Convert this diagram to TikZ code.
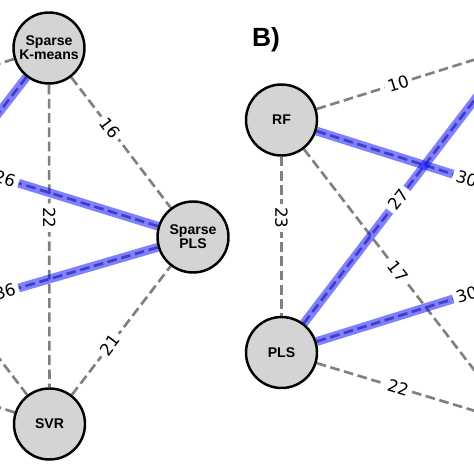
\documentclass[tikz,border=0pt]{standalone}
\usepackage{fontspec}
\setmainfont{Liberation Sans}
\newfontfamily\wtfont{DejaVu Sans}
\pgfdeclarelayer{background}
\pgfsetlayers{background,main}

\begin{document}
\begin{tikzpicture}[
	model/.style={circle,draw,line width=1.4pt,fill=black!17,minimum size=1.42cm,inner sep=0pt,align=center,font=\bfseries\fontsize{8}{7.8}\selectfont},
	link/.style={gray,line width=1.5pt,dash pattern=on 5.5pt off 2.6pt},
	hilite/.style={blue,opacity=.5,line width=5pt},
	wt/.style={fill=white,inner sep=2pt,sloped,font=\wtfont\fontsize{9.5}{10}\selectfont}]
	\useasboundingbox (0,0) rectangle (9.48,-9.48);
	\clip (0,0) rectangle (9.48,-9.48);
	
	% A)
	\node[model] (km) at (0.98,-0.96) {Sparse\\K-means};
	\node[model] (spls) at (3.86,-4.74) {Sparse\\PLS};
	\node[model] (svr) at (0.99,-8.48) {SVR};
	\coordinate (la) at (-3.66,-2.42); \coordinate (lb) at (-3.66,-6.94);
	
	% B)
	\node[font=\bfseries\fontsize{15}{17}\selectfont] (tagB) at (5.32,-0.80) {B)};
	\node[model] (rf) at (5.63,-2.40) {RF};
	\node[model] (pls) at (5.63,-7.05) {PLS};
	\coordinate (rx) at (10.30,-0.94); \coordinate (ry) at (10.30,-8.46);
	\coordinate (rz) at (13.04,-4.74);
	
	\begin{pgfonlayer}{background}
		\clip (0,0) rectangle (9.48,-9.48);
		\foreach \a/\b in {km/svr,km/spls,svr/spls,spls/la,spls/lb,km/la,km/lb,svr/la,svr/lb,rf/pls,rf/rx,rf/rz,rf/ry,pls/rx,pls/rz,pls/ry}
			\draw[link] (\a) -- (\b);
		\foreach \a/\b in {spls/la,spls/lb,km/lb,rf/rz,pls/rx,pls/rz}
			\draw[hilite] (\a) -- (\b);
		\foreach \a/\b/\w in {km/svr/22,km/spls/16,svr/spls/21,spls/la/26,spls/lb/36,rf/pls/23,rf/rx/10,rf/rz/30,rf/ry/17,pls/rx/27,pls/rz/30,pls/ry/22}
			\path (\a.center) -- node[wt] {\w} (\b);
	\end{pgfonlayer}
\end{tikzpicture}
\end{document}
